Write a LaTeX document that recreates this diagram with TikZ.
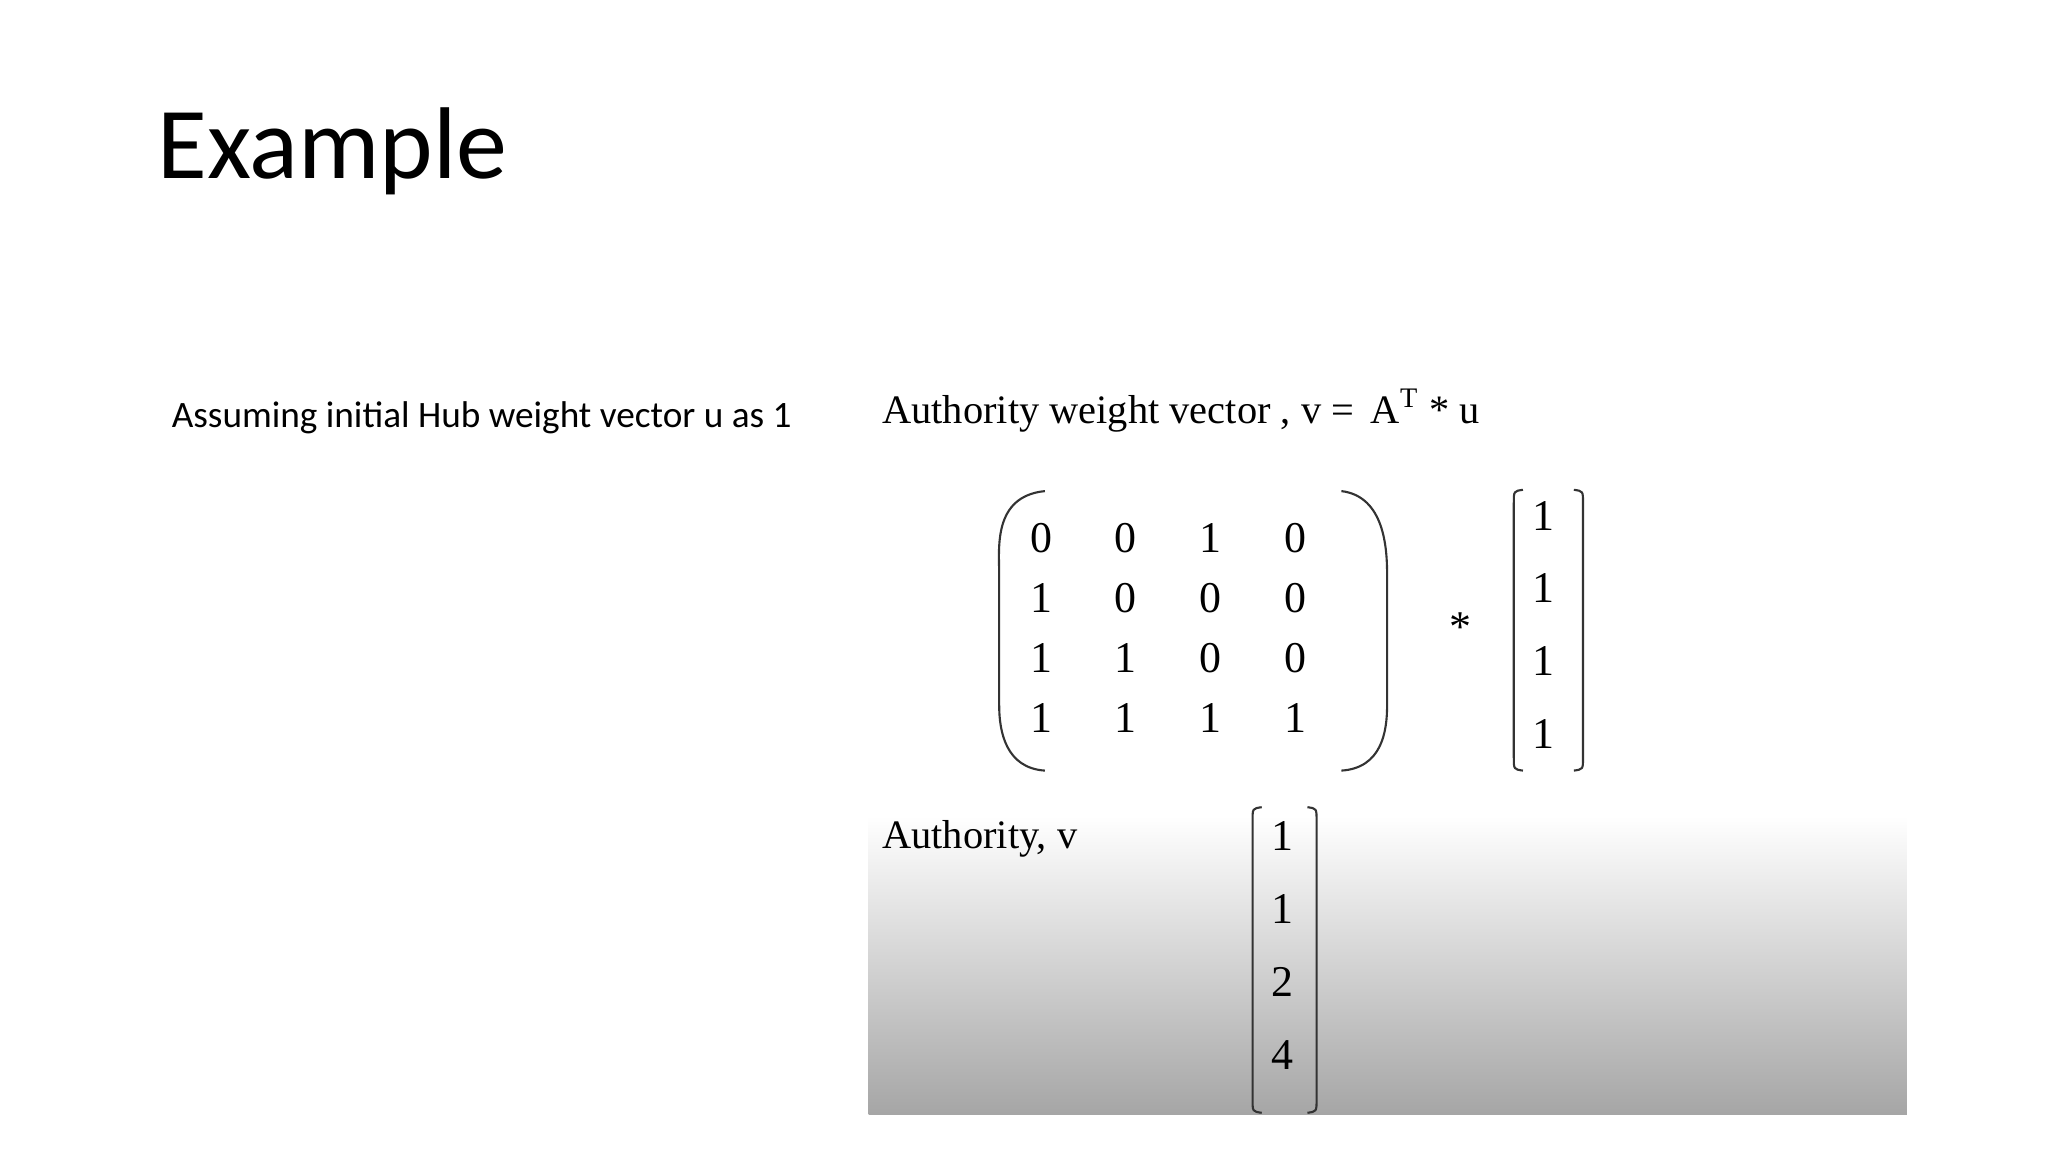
\documentclass[tikz,border=0pt]{standalone}
\usepackage{fontspec}
\setmainfont{Liberation Serif}
\newfontfamily\calfnt{Carlito}
\begin{document}
\begin{tikzpicture}[x=0.01306cm,y=-0.01306cm,
  ent/.style={font=\fontsize{12.5}{14}\selectfont, inner sep=0pt},
  brk/.style={line width=0.6pt, black!80}]
\useasboundingbox (0,0) rectangle (1568,882);
\shade[top color=white, bottom color=black!35] (665,625) rectangle (1460,853);
\node[anchor=base west, font=\calfnt\fontsize{29}{30}\selectfont, inner sep=0pt] (title) at (120,137) {Example};
\node[anchor=base west, font=\calfnt\fontsize{10.6}{12}\selectfont, inner sep=0pt] (assume) at (131,327) {Assuming initial Hub weight vector u as 1};
\node[anchor=base west, font=\fontsize{11.5}{13}\selectfont, inner sep=0pt] (auth) at (675,324) {Authority weight vector , v =\, A\textsuperscript{T} * u};
\node[anchor=base west, font=\fontsize{11.5}{13}\selectfont, inner sep=0pt] (authv) at (675,650) {Authority, v};
\foreach \r/\vals in {412/{0,0,1,0},458/{1,0,0,0},504/{1,1,0,0},550/{1,1,1,1}}{
  \foreach \v [count=\c] in \vals {
    \node[ent] (m\r\c) at (797+65*\c-65,\r) {\v};
  }
}
\draw[brk] (800,376) .. controls (760,380) and (765,420) .. (765,440) -- (765,540) .. controls (765,560) and (770,588) .. (800,590);
\draw[brk] (1027,376) .. controls (1060,380) and (1062,420) .. (1062,440) -- (1062,540) .. controls (1062,560) and (1058,588) .. (1027,590);
\node[ent] (star) at (1118,480) {*};
\foreach \y [count=\i] in {395,450,506,562}{ \node[ent] (u\i) at (1182,\y) {1}; }
\draw[brk] (1166,375) .. controls (1159,376) .. (1159,385) -- (1159,580) .. controls (1159,589) .. (1166,590);
\draw[brk] (1205,375) .. controls (1212,376) .. (1212,385) -- (1212,580) .. controls (1212,589) .. (1205,590);
\foreach \y/\v [count=\i] in {640/1,696/1,752/2,808/4}{ \node[ent] (w\i) at (982,\y) {\v}; }
\draw[brk] (966,618) .. controls (959,619) .. (959,628) -- (959,842) .. controls (959,851) .. (966,852);
\draw[brk] (1001,618) .. controls (1008,619) .. (1008,628) -- (1008,842) .. controls (1008,851) .. (1001,852);
\end{tikzpicture}
\end{document}
